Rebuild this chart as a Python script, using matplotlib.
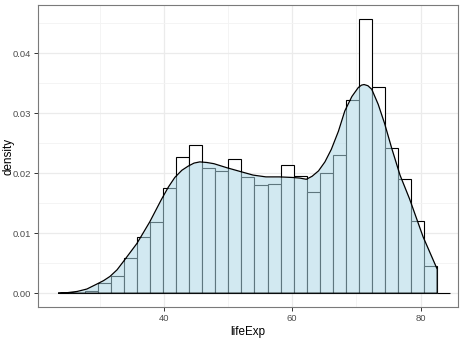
import numpy as np
import matplotlib
matplotlib.use('Agg')
import matplotlib.pyplot as plt

# histogram of lifeExp (density scale), 30 bins
bin_start = 23.599
bin_width = 2.0346
bin_heights = [0.0001, 0.0001, 0.0003, 0.0017, 0.0029, 0.0058, 0.0094, 0.0118,
               0.0175, 0.0227, 0.0247, 0.0209, 0.0204, 0.0224, 0.0193, 0.0181,
               0.0182, 0.0213, 0.0196, 0.0169, 0.0201, 0.0231, 0.0323, 0.0457,
               0.0344, 0.0242, 0.0190, 0.0121, 0.0046, 0.0001]

# kernel density curve
dens_x = [23.6, 25.0, 26.5, 28.0, 29.5, 30.6, 31.6, 32.7, 33.7, 35.8, 37.8, 39.6,
          40.7, 41.7, 42.8, 43.8, 44.7, 45.6, 46.7, 47.8, 49.9, 51.9, 53.9, 55.9,
          58.0, 60.1, 61.2, 62.2, 63.1, 64.1, 65.1, 66.1, 67.2, 68.2, 69.3, 70.3,
          70.8, 71.2, 71.8, 72.4, 73.4, 74.4, 75.5, 76.8, 78.3, 80.4, 82.6]
dens_y = [0.0000, 0.0001, 0.0003, 0.0007, 0.0015, 0.0021, 0.0028, 0.0039, 0.0053,
          0.0083, 0.0119, 0.0156, 0.0177, 0.0193, 0.0205, 0.0212, 0.0217, 0.0219,
          0.0218, 0.0216, 0.0209, 0.0203, 0.0197, 0.0194, 0.0194, 0.0193, 0.0192,
          0.0190, 0.0195, 0.0204, 0.0219, 0.0240, 0.0270, 0.0304, 0.0328, 0.0343,
          0.0347, 0.0348, 0.0346, 0.0340, 0.0315, 0.0283, 0.0242, 0.0197, 0.0157,
          0.0094, 0.0040]

x_ticks = [40, 60, 80]
y_ticks = [0.00, 0.01, 0.02, 0.03, 0.04]

plt.rcParams['font.family'] = ['Liberation Sans', 'DejaVu Sans']

fig = plt.figure(figsize=(4.74, 3.38), dpi=100)
ax = fig.add_axes([0.080, 0.092, 0.886, 0.893])

# histogram: white fill, black outline
lefts = bin_start + bin_width * np.arange(len(bin_heights))
ax.bar(lefts, bin_heights, width=bin_width, align='edge',
       facecolor='white', edgecolor='black', linewidth=0.8, zorder=2)

# density: translucent light blue area with black outline
ax.fill_between(dens_x, dens_y, 0, color='lightblue', alpha=0.55, linewidth=0, zorder=3)
outline_x = [dens_x[0]] + dens_x + [dens_x[-1], dens_x[0]]
outline_y = [0] + dens_y + [0, 0]
ax.plot(outline_x, outline_y, color='black', linewidth=0.9, zorder=4)

ax.set_xlim(20.37, 85.82)
ax.set_ylim(-0.00228, 0.04805)
ax.set_xticks(x_ticks)
ax.set_yticks(y_ticks)
ax.set_yticklabels(['%.2f' % v for v in y_ticks])
ax.set_xticks([30, 50, 70], minor=True)
ax.set_yticks([0.005, 0.015, 0.025, 0.035, 0.045], minor=True)

# theme_bw look
ax.grid(which='major', color='#ebebeb', linewidth=0.9, zorder=0)
ax.grid(which='minor', color='#f3f3f3', linewidth=0.6, zorder=0)
ax.set_axisbelow(True)
for s in ax.spines.values():
    s.set_color('#7a7a7a')
    s.set_linewidth(0.8)
ax.tick_params(which='major', length=3, width=0.7, color='#333333',
               labelsize=6.8, labelcolor='#4d4d4d', pad=2)
ax.tick_params(which='minor', length=0)

ax.set_xlabel('lifeExp', fontsize=8.4, labelpad=2)
ax.set_ylabel('density', fontsize=8.4)
ax.yaxis.set_label_coords(-0.056, 0.5)

fig.savefig('out.png', dpi=100)
